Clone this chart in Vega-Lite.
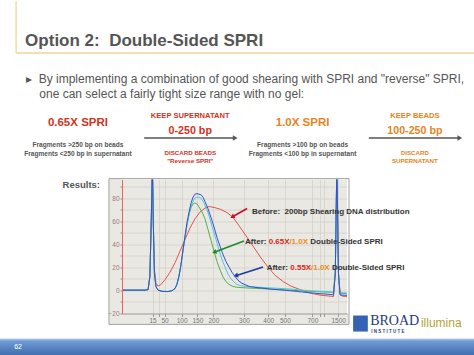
{
"$schema": "https://vega.github.io/schema/vega-lite/v6.json",
"autosize": {"type": "pad"},
"padding": 0,
"background": "#ffffff",
"config": {"font": "Liberation Sans", "view": {"stroke": null}},
"datasets": {
"flow": [
{"step": "A", "part": "headline", "stage": "first", "label": "0.65X SPRI"},
{"step": "A", "part": "fragments", "stage": "first", "label": "Fragments >250 bp on beads\nFragments <250 bp in supernatant"},
{"step": "B", "part": "keep", "stage": "first", "label": "KEEP SUPERNATANT"},
{"step": "B", "part": "range", "stage": "first", "label": "0-250 bp"},
{"step": "B", "part": "arrow", "stage": "first", "label": ""},
{"step": "B", "part": "discard", "stage": "first", "label": "DISCARD BEADS\n\"Reverse SPRI\""},
{"step": "C", "part": "headline", "stage": "second", "label": "1.0X SPRI"},
{"step": "C", "part": "fragments", "stage": "second", "label": "Fragments >100 bp on beads\nFragments <100 bp in supernatant"},
{"step": "D", "part": "keep", "stage": "second", "label": "KEEP BEADS"},
{"step": "D", "part": "range", "stage": "second", "label": "100-250 bp"},
{"step": "D", "part": "arrow", "stage": "second", "label": ""},
{"step": "D", "part": "discard", "stage": "second", "label": "DISCARD\nSUPERNATANT"}
],
"curves": [
{"sample":"Before","time":0,"fu":0},{"sample":"Before","time":5.8,"fu":0},{"sample":"Before","time":10.2,"fu":0},{"sample":"Before","time":11.6,"fu":0.5},{"sample":"Before","time":12.4,"fu":12},{"sample":"Before","time":13.0,"fu":60},{"sample":"Before","time":13.5,"fu":110},{"sample":"Before","time":13.9,"fu":60},{"sample":"Before","time":14.4,"fu":18},{"sample":"Before","time":15.1,"fu":6},{"sample":"Before","time":16.0,"fu":3.5},{"sample":"Before","time":17.3,"fu":5},{"sample":"Before","time":19.1,"fu":9},{"sample":"Before","time":21.3,"fu":15.5},{"sample":"Before","time":23.6,"fu":24},{"sample":"Before","time":25.8,"fu":34},{"sample":"Before","time":28.0,"fu":44},{"sample":"Before","time":30.2,"fu":54},{"sample":"Before","time":32.4,"fu":62},{"sample":"Before","time":34.7,"fu":68},{"sample":"Before","time":36.9,"fu":71.5},{"sample":"Before","time":38.7,"fu":72.8},{"sample":"Before","time":40.9,"fu":72},{"sample":"Before","time":43.6,"fu":70.5},{"sample":"Before","time":46.7,"fu":67.5},{"sample":"Before","time":49.3,"fu":63.5},{"sample":"Before","time":52.4,"fu":55},{"sample":"Before","time":55.6,"fu":46},{"sample":"Before","time":58.7,"fu":37},{"sample":"Before","time":61.8,"fu":28},{"sample":"Before","time":64.9,"fu":20},{"sample":"Before","time":68.0,"fu":13},{"sample":"Before","time":71.6,"fu":7.5},{"sample":"Before","time":75.1,"fu":3.5},{"sample":"Before","time":79.1,"fu":0.5},{"sample":"Before","time":83.6,"fu":-2.5},{"sample":"Before","time":88.0,"fu":-4.3},{"sample":"Before","time":92.4,"fu":-5.2},{"sample":"Before","time":94.0,"fu":-5.5},{"sample":"Before","time":94.8,"fu":15},{"sample":"Before","time":95.2,"fu":70},{"sample":"Before","time":95.5,"fu":110},{"sample":"Before","time":95.8,"fu":70},{"sample":"Before","time":96.2,"fu":15},{"sample":"Before","time":96.9,"fu":-3},{"sample":"Before","time":97.8,"fu":-5.2},{"sample":"Before","time":100,"fu":-5.5},

{"sample":"0.65X/1.0X","time":0,"fu":0},{"sample":"0.65X/1.0X","time":5.8,"fu":0},{"sample":"0.65X/1.0X","time":10.2,"fu":0},{"sample":"0.65X/1.0X","time":11.6,"fu":0.5},{"sample":"0.65X/1.0X","time":12.4,"fu":12},{"sample":"0.65X/1.0X","time":13.0,"fu":60},{"sample":"0.65X/1.0X","time":13.5,"fu":110},{"sample":"0.65X/1.0X","time":13.9,"fu":60},{"sample":"0.65X/1.0X","time":14.4,"fu":15},{"sample":"0.65X/1.0X","time":15.1,"fu":3},{"sample":"0.65X/1.0X","time":16.0,"fu":0},{"sample":"0.65X/1.0X","time":17.8,"fu":-1},{"sample":"0.65X/1.0X","time":20.4,"fu":-1.2},{"sample":"0.65X/1.0X","time":22.2,"fu":-0.5},{"sample":"0.65X/1.0X","time":23.6,"fu":1.5},{"sample":"0.65X/1.0X","time":24.4,"fu":5},{"sample":"0.65X/1.0X","time":25.3,"fu":12},{"sample":"0.65X/1.0X","time":26.2,"fu":22},{"sample":"0.65X/1.0X","time":27.1,"fu":34},{"sample":"0.65X/1.0X","time":28.0,"fu":46},{"sample":"0.65X/1.0X","time":28.9,"fu":57},{"sample":"0.65X/1.0X","time":29.8,"fu":66},{"sample":"0.65X/1.0X","time":30.7,"fu":72},{"sample":"0.65X/1.0X","time":31.6,"fu":75},{"sample":"0.65X/1.0X","time":32.4,"fu":76},{"sample":"0.65X/1.0X","time":33.3,"fu":75},{"sample":"0.65X/1.0X","time":34.2,"fu":72.5},{"sample":"0.65X/1.0X","time":35.6,"fu":68},{"sample":"0.65X/1.0X","time":36.9,"fu":62},{"sample":"0.65X/1.0X","time":38.2,"fu":53},{"sample":"0.65X/1.0X","time":39.6,"fu":43},{"sample":"0.65X/1.0X","time":40.9,"fu":34},{"sample":"0.65X/1.0X","time":42.2,"fu":25},{"sample":"0.65X/1.0X","time":43.6,"fu":17.5},{"sample":"0.65X/1.0X","time":44.9,"fu":11.5},{"sample":"0.65X/1.0X","time":46.2,"fu":7.5},{"sample":"0.65X/1.0X","time":47.6,"fu":5},{"sample":"0.65X/1.0X","time":49.3,"fu":3.2},{"sample":"0.65X/1.0X","time":51.6,"fu":2.4},{"sample":"0.65X/1.0X","time":56.9,"fu":1.8},{"sample":"0.65X/1.0X","time":65.8,"fu":1},{"sample":"0.65X/1.0X","time":74.7,"fu":0},{"sample":"0.65X/1.0X","time":83.6,"fu":-1},{"sample":"0.65X/1.0X","time":92.4,"fu":-1.8},{"sample":"0.65X/1.0X","time":94.0,"fu":-2},{"sample":"0.65X/1.0X","time":94.8,"fu":15},{"sample":"0.65X/1.0X","time":95.2,"fu":70},{"sample":"0.65X/1.0X","time":95.5,"fu":110},{"sample":"0.65X/1.0X","time":95.8,"fu":70},{"sample":"0.65X/1.0X","time":96.2,"fu":15},{"sample":"0.65X/1.0X","time":96.9,"fu":-2.5},{"sample":"0.65X/1.0X","time":100,"fu":-3},

{"sample":"0.55X/1.0X run 2","time":0,"fu":0},{"sample":"0.55X/1.0X run 2","time":5.8,"fu":0},{"sample":"0.55X/1.0X run 2","time":10.2,"fu":0},{"sample":"0.55X/1.0X run 2","time":11.6,"fu":0.5},{"sample":"0.55X/1.0X run 2","time":12.4,"fu":12},{"sample":"0.55X/1.0X run 2","time":13.0,"fu":60},{"sample":"0.55X/1.0X run 2","time":13.5,"fu":110},{"sample":"0.55X/1.0X run 2","time":13.9,"fu":60},{"sample":"0.55X/1.0X run 2","time":14.4,"fu":15},{"sample":"0.55X/1.0X run 2","time":15.1,"fu":3},{"sample":"0.55X/1.0X run 2","time":16.0,"fu":0},{"sample":"0.55X/1.0X run 2","time":17.8,"fu":-1},{"sample":"0.55X/1.0X run 2","time":20.4,"fu":-1.2},{"sample":"0.55X/1.0X run 2","time":22.2,"fu":-0.5},{"sample":"0.55X/1.0X run 2","time":23.6,"fu":1.5},{"sample":"0.55X/1.0X run 2","time":24.4,"fu":5},{"sample":"0.55X/1.0X run 2","time":25.3,"fu":12},{"sample":"0.55X/1.0X run 2","time":26.2,"fu":22},{"sample":"0.55X/1.0X run 2","time":27.1,"fu":34},{"sample":"0.55X/1.0X run 2","time":28.0,"fu":46},{"sample":"0.55X/1.0X run 2","time":28.9,"fu":57},{"sample":"0.55X/1.0X run 2","time":29.8,"fu":66},{"sample":"0.55X/1.0X run 2","time":30.7,"fu":73},{"sample":"0.55X/1.0X run 2","time":31.6,"fu":77.5},{"sample":"0.55X/1.0X run 2","time":32.4,"fu":80},{"sample":"0.55X/1.0X run 2","time":33.3,"fu":81},{"sample":"0.55X/1.0X run 2","time":34.2,"fu":81},{"sample":"0.55X/1.0X run 2","time":35.1,"fu":80},{"sample":"0.55X/1.0X run 2","time":36.4,"fu":76},{"sample":"0.55X/1.0X run 2","time":37.8,"fu":70},{"sample":"0.55X/1.0X run 2","time":39.1,"fu":62},{"sample":"0.55X/1.0X run 2","time":40.4,"fu":53},{"sample":"0.55X/1.0X run 2","time":41.8,"fu":44},{"sample":"0.55X/1.0X run 2","time":43.1,"fu":35},{"sample":"0.55X/1.0X run 2","time":44.4,"fu":27},{"sample":"0.55X/1.0X run 2","time":45.8,"fu":20},{"sample":"0.55X/1.0X run 2","time":47.1,"fu":14},{"sample":"0.55X/1.0X run 2","time":48.4,"fu":10},{"sample":"0.55X/1.0X run 2","time":49.8,"fu":7},{"sample":"0.55X/1.0X run 2","time":51.1,"fu":5},{"sample":"0.55X/1.0X run 2","time":52.9,"fu":3.8},{"sample":"0.55X/1.0X run 2","time":56.9,"fu":3},{"sample":"0.55X/1.0X run 2","time":65.8,"fu":2},{"sample":"0.55X/1.0X run 2","time":74.7,"fu":1},{"sample":"0.55X/1.0X run 2","time":83.6,"fu":-0.5},{"sample":"0.55X/1.0X run 2","time":92.4,"fu":-1.5},{"sample":"0.55X/1.0X run 2","time":94.0,"fu":-1.8},{"sample":"0.55X/1.0X run 2","time":94.8,"fu":15},{"sample":"0.55X/1.0X run 2","time":95.2,"fu":70},{"sample":"0.55X/1.0X run 2","time":95.5,"fu":110},{"sample":"0.55X/1.0X run 2","time":95.8,"fu":70},{"sample":"0.55X/1.0X run 2","time":96.2,"fu":15},{"sample":"0.55X/1.0X run 2","time":96.9,"fu":-2},{"sample":"0.55X/1.0X run 2","time":100,"fu":-2.5},

{"sample":"0.55X/1.0X","time":0,"fu":0},{"sample":"0.55X/1.0X","time":5.8,"fu":0},{"sample":"0.55X/1.0X","time":10.2,"fu":0},{"sample":"0.55X/1.0X","time":11.6,"fu":0.5},{"sample":"0.55X/1.0X","time":12.4,"fu":12},{"sample":"0.55X/1.0X","time":13.0,"fu":60},{"sample":"0.55X/1.0X","time":13.5,"fu":110},{"sample":"0.55X/1.0X","time":13.9,"fu":60},{"sample":"0.55X/1.0X","time":14.4,"fu":15},{"sample":"0.55X/1.0X","time":15.1,"fu":3},{"sample":"0.55X/1.0X","time":16.0,"fu":0},{"sample":"0.55X/1.0X","time":17.8,"fu":-1},{"sample":"0.55X/1.0X","time":20.4,"fu":-1.2},{"sample":"0.55X/1.0X","time":22.2,"fu":-0.5},{"sample":"0.55X/1.0X","time":23.6,"fu":1.5},{"sample":"0.55X/1.0X","time":24.4,"fu":5},{"sample":"0.55X/1.0X","time":25.3,"fu":12},{"sample":"0.55X/1.0X","time":26.2,"fu":22},{"sample":"0.55X/1.0X","time":27.1,"fu":35},{"sample":"0.55X/1.0X","time":28.0,"fu":47},{"sample":"0.55X/1.0X","time":28.9,"fu":59},{"sample":"0.55X/1.0X","time":29.8,"fu":68},{"sample":"0.55X/1.0X","time":30.7,"fu":76},{"sample":"0.55X/1.0X","time":31.6,"fu":81},{"sample":"0.55X/1.0X","time":32.4,"fu":83.5},{"sample":"0.55X/1.0X","time":33.3,"fu":84},{"sample":"0.55X/1.0X","time":34.2,"fu":83.5},{"sample":"0.55X/1.0X","time":35.1,"fu":83},{"sample":"0.55X/1.0X","time":36.0,"fu":81},{"sample":"0.55X/1.0X","time":36.9,"fu":77},{"sample":"0.55X/1.0X","time":38.2,"fu":71},{"sample":"0.55X/1.0X","time":39.6,"fu":63},{"sample":"0.55X/1.0X","time":40.9,"fu":55},{"sample":"0.55X/1.0X","time":42.2,"fu":46},{"sample":"0.55X/1.0X","time":43.6,"fu":38},{"sample":"0.55X/1.0X","time":44.9,"fu":31},{"sample":"0.55X/1.0X","time":46.2,"fu":25},{"sample":"0.55X/1.0X","time":47.6,"fu":20},{"sample":"0.55X/1.0X","time":48.9,"fu":15.5},{"sample":"0.55X/1.0X","time":50.2,"fu":12},{"sample":"0.55X/1.0X","time":51.6,"fu":8.5},{"sample":"0.55X/1.0X","time":53.3,"fu":6},{"sample":"0.55X/1.0X","time":55.1,"fu":4.5},{"sample":"0.55X/1.0X","time":56.9,"fu":3},{"sample":"0.55X/1.0X","time":65.8,"fu":1},{"sample":"0.55X/1.0X","time":74.7,"fu":-0.5},{"sample":"0.55X/1.0X","time":83.6,"fu":-2.3},{"sample":"0.55X/1.0X","time":92.4,"fu":-3.7},{"sample":"0.55X/1.0X","time":94.0,"fu":-4},{"sample":"0.55X/1.0X","time":94.8,"fu":15},{"sample":"0.55X/1.0X","time":95.2,"fu":70},{"sample":"0.55X/1.0X","time":95.5,"fu":110},{"sample":"0.55X/1.0X","time":95.8,"fu":70},{"sample":"0.55X/1.0X","time":96.2,"fu":15},{"sample":"0.55X/1.0X","time":96.9,"fu":-4.2},{"sample":"0.55X/1.0X","time":100,"fu":-4.5}
],
"arrows": [
{"sample": "Before", "time0": 55.6, "fu0": 71.0, "time1": 49.3, "fu1": 64.1},
{"sample": "0.65X/1.0X", "time0": 54.2, "fu0": 42.8, "time1": 41.3, "fu1": 33.2},
{"sample": "0.55X/1.0X", "time0": 62.7, "fu0": 20.2, "time1": 50.9, "fu1": 12.8}
],
"notes": [
{"time": 57.8, "fu": 67.6, "tone": "text", "label": "Before:\u00a0 200bp Shearing DNA distribution"},
{"time": 54.7, "fu": 41.9, "tone": "text", "label": "After:"},
{"time": 65.2, "fu": 41.9, "tone": "first", "label": "0.65X"},
{"time": 74.4, "fu": 41.9, "tone": "second", "label": "/1.0X"},
{"time": 83.7, "fu": 41.9, "tone": "text", "label": "Double-Sided SPRI"},
{"time": 64.3, "fu": 19.3, "tone": "text", "label": "After:"},
{"time": 74.8, "fu": 19.3, "tone": "first", "label": "0.55X"},
{"time": 84.0, "fu": 19.3, "tone": "second", "label": "/1.0X"},
{"time": 93.3, "fu": 19.3, "tone": "text", "label": "Double-Sided SPRI"}
],
"footer": [
{"item": "bar", "text": ""},
{"item": "page", "text": "62"},
{"item": "icon", "text": ""},
{"item": "broad", "text": "BROAD"},
{"item": "institute", "text": "I N S T I T U T E"},
{"item": "illumina", "text": "illumina"}
]
},
"bounds": "flush",
"spacing": 63,
"vconcat": [
{
"width": 474, "height": 52,
"data": {"values": [{"text": "Option 2:\u00a0 Double-Sided SPRI"}]},
"layer": [
{"mark": {"type": "rule", "color": "#efd59b", "strokeWidth": 1.3},
 "encoding": {"x": {"datum": 0.034, "type": "quantitative", "scale": {"domain": [0, 1]}, "axis": null}, "x2": {"datum": 1}, "y": {"datum": 0, "type": "quantitative", "scale": {"domain": [0, 1]}, "axis": null}}},
{"mark": {"type": "rule", "color": "#efd59b", "strokeWidth": 1.3},
 "encoding": {"x": {"datum": 0.034, "type": "quantitative", "scale": {"domain": [0, 1]}, "axis": null}, "y": {"datum": 0, "type": "quantitative", "scale": {"domain": [0, 1]}, "axis": null}, "y2": {"datum": 1}}},
{"mark": {"type": "text", "align": "left", "baseline": "alphabetic", "fontSize": 17, "fontWeight": "bold", "color": "#555555"},
 "encoding": {"text": {"field": "text"}, "x": {"datum": 0.053, "type": "quantitative", "scale": {"domain": [0, 1]}, "axis": null}, "y": {"datum": 0.135, "type": "quantitative", "scale": {"domain": [0, 1]}, "axis": null}}}
]
},
{
"bounds": "flush",
"spacing": 26.5,
"resolve": {"scale": {"fill": "independent", "color": "independent", "stroke": "independent"}},
"vconcat": [
{
"width": 474, "height": 36.5,
"title": {"text": ["\u25b8\u00a0 By implementing a combination of good shearing with SPRI and \"reverse\" SPRI,", "\u200b\u00a0\u00a0\u00a0\u00a0one can select a fairly tight size range with no gel:"], "anchor": "start", "frame": "group", "dx": 26, "fontSize": 12, "fontWeight": "normal", "color": "#555555", "lineHeight": 15, "offset": 11},
"data": {"name": "flow"},
"encoding": {
 "x": {"field": "step", "type": "nominal", "scale": {"type": "band", "domain": ["A", "B", "C", "D"], "paddingInner": 0, "paddingOuter": 0.11, "align": 0.881}, "axis": null},
 "y": {"field": "part", "type": "ordinal", "scale": {"type": "point", "domain": ["keep", "headline", "range", "arrow", "fragments", "discard"], "padding": 0}, "axis": null}
},
"layer": [
{"transform": [{"filter": "datum.part === 'headline'"}], "mark": {"type": "text", "fontSize": 11.5, "fontWeight": "bold", "baseline": "middle"},
 "encoding": {"text": {"field": "label"}, "fill": {"field": "stage", "type": "nominal", "scale": {"domain": ["first", "second"], "range": ["#d3321c", "#e8841c"]}, "legend": null}}},
{"transform": [{"filter": "datum.part === 'keep'"}], "mark": {"type": "text", "fontSize": 7.6, "fontWeight": "bold", "baseline": "middle"},
 "encoding": {"text": {"field": "label"}, "fill": {"field": "stage", "type": "nominal", "legend": null}}},
{"transform": [{"filter": "datum.part === 'range'"}], "mark": {"type": "text", "fontSize": 10.7, "fontWeight": "bold", "baseline": "middle"},
 "encoding": {"text": {"field": "label"}, "fill": {"field": "stage", "type": "nominal", "legend": null}}},
{"transform": [{"filter": "datum.part === 'discard'"}], "mark": {"type": "text", "fontSize": 6.2, "fontWeight": "bold", "baseline": "middle", "lineBreak": "\n", "lineHeight": 8.3},
 "encoding": {"text": {"field": "label"}, "fill": {"field": "stage", "type": "nominal", "legend": null}}},
{"transform": [{"filter": "datum.part === 'fragments'"}], "mark": {"type": "text", "fontSize": 6.6, "fontWeight": "bold", "baseline": "middle", "lineBreak": "\n", "lineHeight": 9, "color": "#555555"},
 "encoding": {"text": {"field": "label"}}},
{"transform": [{"filter": "datum.part === 'arrow'"}], "mark": {"type": "rule", "color": "#555555", "strokeWidth": 1.5},
 "encoding": {"x": {"field": "step", "type": "nominal", "bandPosition": 0.09}, "x2": {"field": "step", "bandPosition": 0.9}}},
{"transform": [{"filter": "datum.part === 'arrow'"}], "mark": {"type": "point", "shape": "triangle-right", "filled": true, "size": 30, "color": "#555555", "opacity": 1},
 "encoding": {"x": {"field": "step", "type": "nominal", "bandPosition": 0.9}}}
]
},
{
"bounds": "flush",
"spacing": 134,
"vconcat": [
{
"bounds": "flush",
"spacing": 22,
"hconcat": [
{
"width": 100, "height": 134,
"data": {"values": [{"label": "Results:"}]},
"mark": {"type": "text", "align": "right", "baseline": "top", "fontSize": 9.5, "fontWeight": "bold", "color": "#555555"},
"encoding": {"text": {"field": "label"}, "x": {"datum": 1, "type": "quantitative", "scale": {"domain": [0, 1]}, "axis": null}, "y": {"datum": 1, "type": "quantitative", "scale": {"domain": [0, 1]}, "axis": null}}
},
{
"width": 225, "height": 134,
"view": {"fill": "#e9e8e3", "stroke": null},
"resolve": {"axis": {"x": "independent", "y": "independent"}},
"layer": [
{"data": {"values": [{"part": "frame"}]},
 "mark": {"type": "rect", "color": "#e9e8e3", "clip": false},
 "encoding": {"x": {"datum": -5.8, "type": "quantitative", "axis": null}, "x2": {"datum": 0}, "y": {"datum": -29.8, "type": "quantitative", "axis": null}, "y2": {"datum": 97.1}}},
{"data": {"values": [{"part": "frame"}]},
 "mark": {"type": "rect", "color": "#e9e8e3", "clip": false},
 "encoding": {"x": {"datum": 0, "type": "quantitative", "axis": null}, "x2": {"datum": 100.9}, "y": {"datum": -29.8, "type": "quantitative", "axis": null}, "y2": {"datum": -20.3}}},
{"data": {"name": "curves"},
 "mark": {"type": "line", "strokeWidth": 1, "clip": true},
 "encoding": {
  "x": {"field": "time", "type": "quantitative", "scale": {"domain": [0, 100], "nice": false, "zero": false},
        "axis": {"title": null, "orient": "bottom", "zindex": 0, "values": [13.6, 16.4, 18.9, 26.5, 33.5, 40.6, 54.2, 65, 72.4, 84.6, 88, 89.8, 96.1], "tickCount": 100,
                 "labels": false, "ticks": false, "domain": false, "grid": true, "gridColor": "#d4d1ca", "gridWidth": 0.8}},
  "y": {"field": "fu", "type": "quantitative", "scale": {"domain": [-20.3, 96.3], "nice": false, "zero": false},
        "axis": {"title": null, "orient": "left", "zindex": 0, "values": [-20, -10, 0, 10, 20, 30, 40, 50, 60, 70, 80, 90], "tickCount": 100,
                 "labels": false, "ticks": false, "domain": false, "grid": true, "gridColor": "#d4d1ca", "gridWidth": 0.8}},
  "stroke": {"field": "sample", "type": "nominal", "scale": {"domain": ["Before", "0.65X/1.0X", "0.55X/1.0X run 2", "0.55X/1.0X"], "range": ["#e0544c", "#55b04a", "#4cc4e4", "#3550c8"]}, "legend": null}
 }},
{"data": {"values": [{"part": "frame"}]},
 "mark": {"type": "rect", "fill": null, "stroke": "#a3a3a3", "strokeWidth": 1, "clip": false},
 "encoding": {"x": {"datum": -5.8, "type": "quantitative", "axis": null}, "x2": {"datum": 100.9}, "y": {"datum": -29.8, "type": "quantitative", "axis": null}, "y2": {"datum": 97.1}}},
{"data": {"name": "arrows"},
 "mark": {"type": "rule", "strokeWidth": 1.7},
 "encoding": {"x": {"field": "time0", "type": "quantitative", "axis": null}, "y": {"field": "fu0", "type": "quantitative", "axis": null}, "x2": {"field": "time1"}, "y2": {"field": "fu1"},
  "color": {"field": "sample", "type": "nominal", "scale": {"domain": ["Before", "0.65X/1.0X", "0.55X/1.0X"], "range": ["#c8102a", "#1d8c2c", "#1c3c9e"]}, "legend": null}}},
{"data": {"name": "arrows"}, "transform": [{"filter": "datum.sample === 'Before'"}],
 "mark": {"type": "point", "shape": "triangle", "filled": true, "size": 26, "angle": 240, "opacity": 1},
 "encoding": {"x": {"field": "time1", "type": "quantitative", "axis": null}, "y": {"field": "fu1", "type": "quantitative", "axis": null}, "color": {"field": "sample", "type": "nominal", "legend": null}}},
{"data": {"name": "arrows"}, "transform": [{"filter": "datum.sample === '0.65X/1.0X'"}],
 "mark": {"type": "point", "shape": "triangle", "filled": true, "size": 26, "angle": 249, "opacity": 1},
 "encoding": {"x": {"field": "time1", "type": "quantitative", "axis": null}, "y": {"field": "fu1", "type": "quantitative", "axis": null}, "color": {"field": "sample", "type": "nominal", "legend": null}}},
{"data": {"name": "arrows"}, "transform": [{"filter": "datum.sample === '0.55X/1.0X'"}],
 "mark": {"type": "point", "shape": "triangle", "filled": true, "size": 26, "angle": 252, "opacity": 1},
 "encoding": {"x": {"field": "time1", "type": "quantitative", "axis": null}, "y": {"field": "fu1", "type": "quantitative", "axis": null}, "color": {"field": "sample", "type": "nominal", "legend": null}}},
{"data": {"name": "notes"},
 "mark": {"type": "text", "align": "left", "baseline": "middle", "fontSize": 8, "fontWeight": "bold"},
 "encoding": {
  "x": {"field": "time", "type": "quantitative",
        "axis": {"title": null, "orient": "bottom", "zindex": 1, "values": [13.6, 16.4, 18.9, 26.5, 33.5, 40.6, 54.2, 65, 72.4, 84.6, 88, 89.8, 96.1], "tickCount": 100,
                 "labelExpr": "datum.value == 13.6 ? '15' : datum.value == 18.9 ? '50' : datum.value == 26.5 ? '100' : datum.value == 33.5 ? '150' : datum.value == 40.6 ? '200' : datum.value == 54.2 ? '300' : datum.value == 65 ? '400' : datum.value == 72.4 ? '500' : datum.value == 84.6 ? '700' : datum.value == 96.1 ? '1500' : ''",
                 "labelFontSize": 6.5, "labelColor": "#777777", "labelPadding": 1, "labelFlush": false, "labelOverlap": false, "tickSize": 3, "tickColor": "#999999", "domainColor": "#999999", "grid": false}},
  "y": {"field": "fu", "type": "quantitative",
        "axis": {"title": null, "orient": "left", "zindex": 1, "values": [-20, -10, 0, 10, 20, 30, 40, 50, 60, 70, 80, 90], "tickCount": 100,
                 "labelExpr": "datum.value % 20 === 0 ? datum.label : ''", "labelOverlap": false,
                 "labelFontSize": 6.5, "labelColor": "#a07a7a", "labelPadding": 1, "tickSize": 2, "tickColor": "#e07070", "domainColor": "#e06666", "grid": false}},
  "text": {"field": "label"},
  "fill": {"field": "tone", "type": "nominal", "scale": {"domain": ["text", "first", "second"], "range": ["#333333", "#d42a1a", "#e8901a"]}, "legend": null}}}
]
}
]
},
{
"width": 474, "height": 43,
"data": {"name": "footer"},
"layer": [
{"transform": [{"filter": "datum.item === 'bar'"}],
 "mark": {"type": "rect", "color": {"gradient": "linear", "x1": 0, "y1": 0, "x2": 0, "y2": 1, "stops": [{"offset": 0, "color": "#b9d0ea"}, {"offset": 0.15, "color": "#6e9bd3"}, {"offset": 1, "color": "#3b69ab"}]}},
 "encoding": {"x": {"datum": 0, "type": "quantitative", "scale": {"domain": [0, 1]}, "axis": null}, "x2": {"datum": 1}, "y": {"datum": 0, "type": "quantitative", "scale": {"domain": [0, 1]}, "axis": null}, "y2": {"datum": 0.42}}},
{"transform": [{"filter": "datum.item === 'page'"}],
 "mark": {"type": "text", "align": "left", "baseline": "middle", "fontSize": 7, "color": "#ffffff"},
 "encoding": {"text": {"field": "text"}, "x": {"datum": 0.03, "type": "quantitative"}, "y": {"datum": 0.21, "type": "quantitative"}}},
{"transform": [{"filter": "datum.item === 'icon'"}],
 "mark": {"type": "rect", "color": "#3463b4"},
 "encoding": {"x": {"datum": 0.745, "type": "quantitative"}, "x2": {"datum": 0.776}, "y": {"datum": 0.58, "type": "quantitative"}, "y2": {"datum": 0.953}}},
{"transform": [{"filter": "datum.item === 'broad'"}],
 "mark": {"type": "text", "align": "left", "baseline": "alphabetic", "fontSize": 14, "font": "Liberation Serif", "color": "#1f3c78"},
 "encoding": {"text": {"field": "text"}, "x": {"datum": 0.781, "type": "quantitative"}, "y": {"datum": 0.726, "type": "quantitative"}}},
{"transform": [{"filter": "datum.item === 'institute'"}],
 "mark": {"type": "text", "align": "left", "baseline": "alphabetic", "fontSize": 4.5, "fontWeight": "bold", "color": "#1f3c78"},
 "encoding": {"text": {"field": "text"}, "x": {"datum": 0.783, "type": "quantitative"}, "y": {"datum": 0.55, "type": "quantitative"}}},
{"transform": [{"filter": "datum.item === 'illumina'"}],
 "mark": {"type": "text", "align": "left", "baseline": "alphabetic", "fontSize": 12, "color": "#b9a23a"},
 "encoding": {"text": {"field": "text"}, "x": {"datum": 0.888, "type": "quantitative"}, "y": {"datum": 0.69, "type": "quantitative"}}}
]
}
]
}
]
}
]
}
